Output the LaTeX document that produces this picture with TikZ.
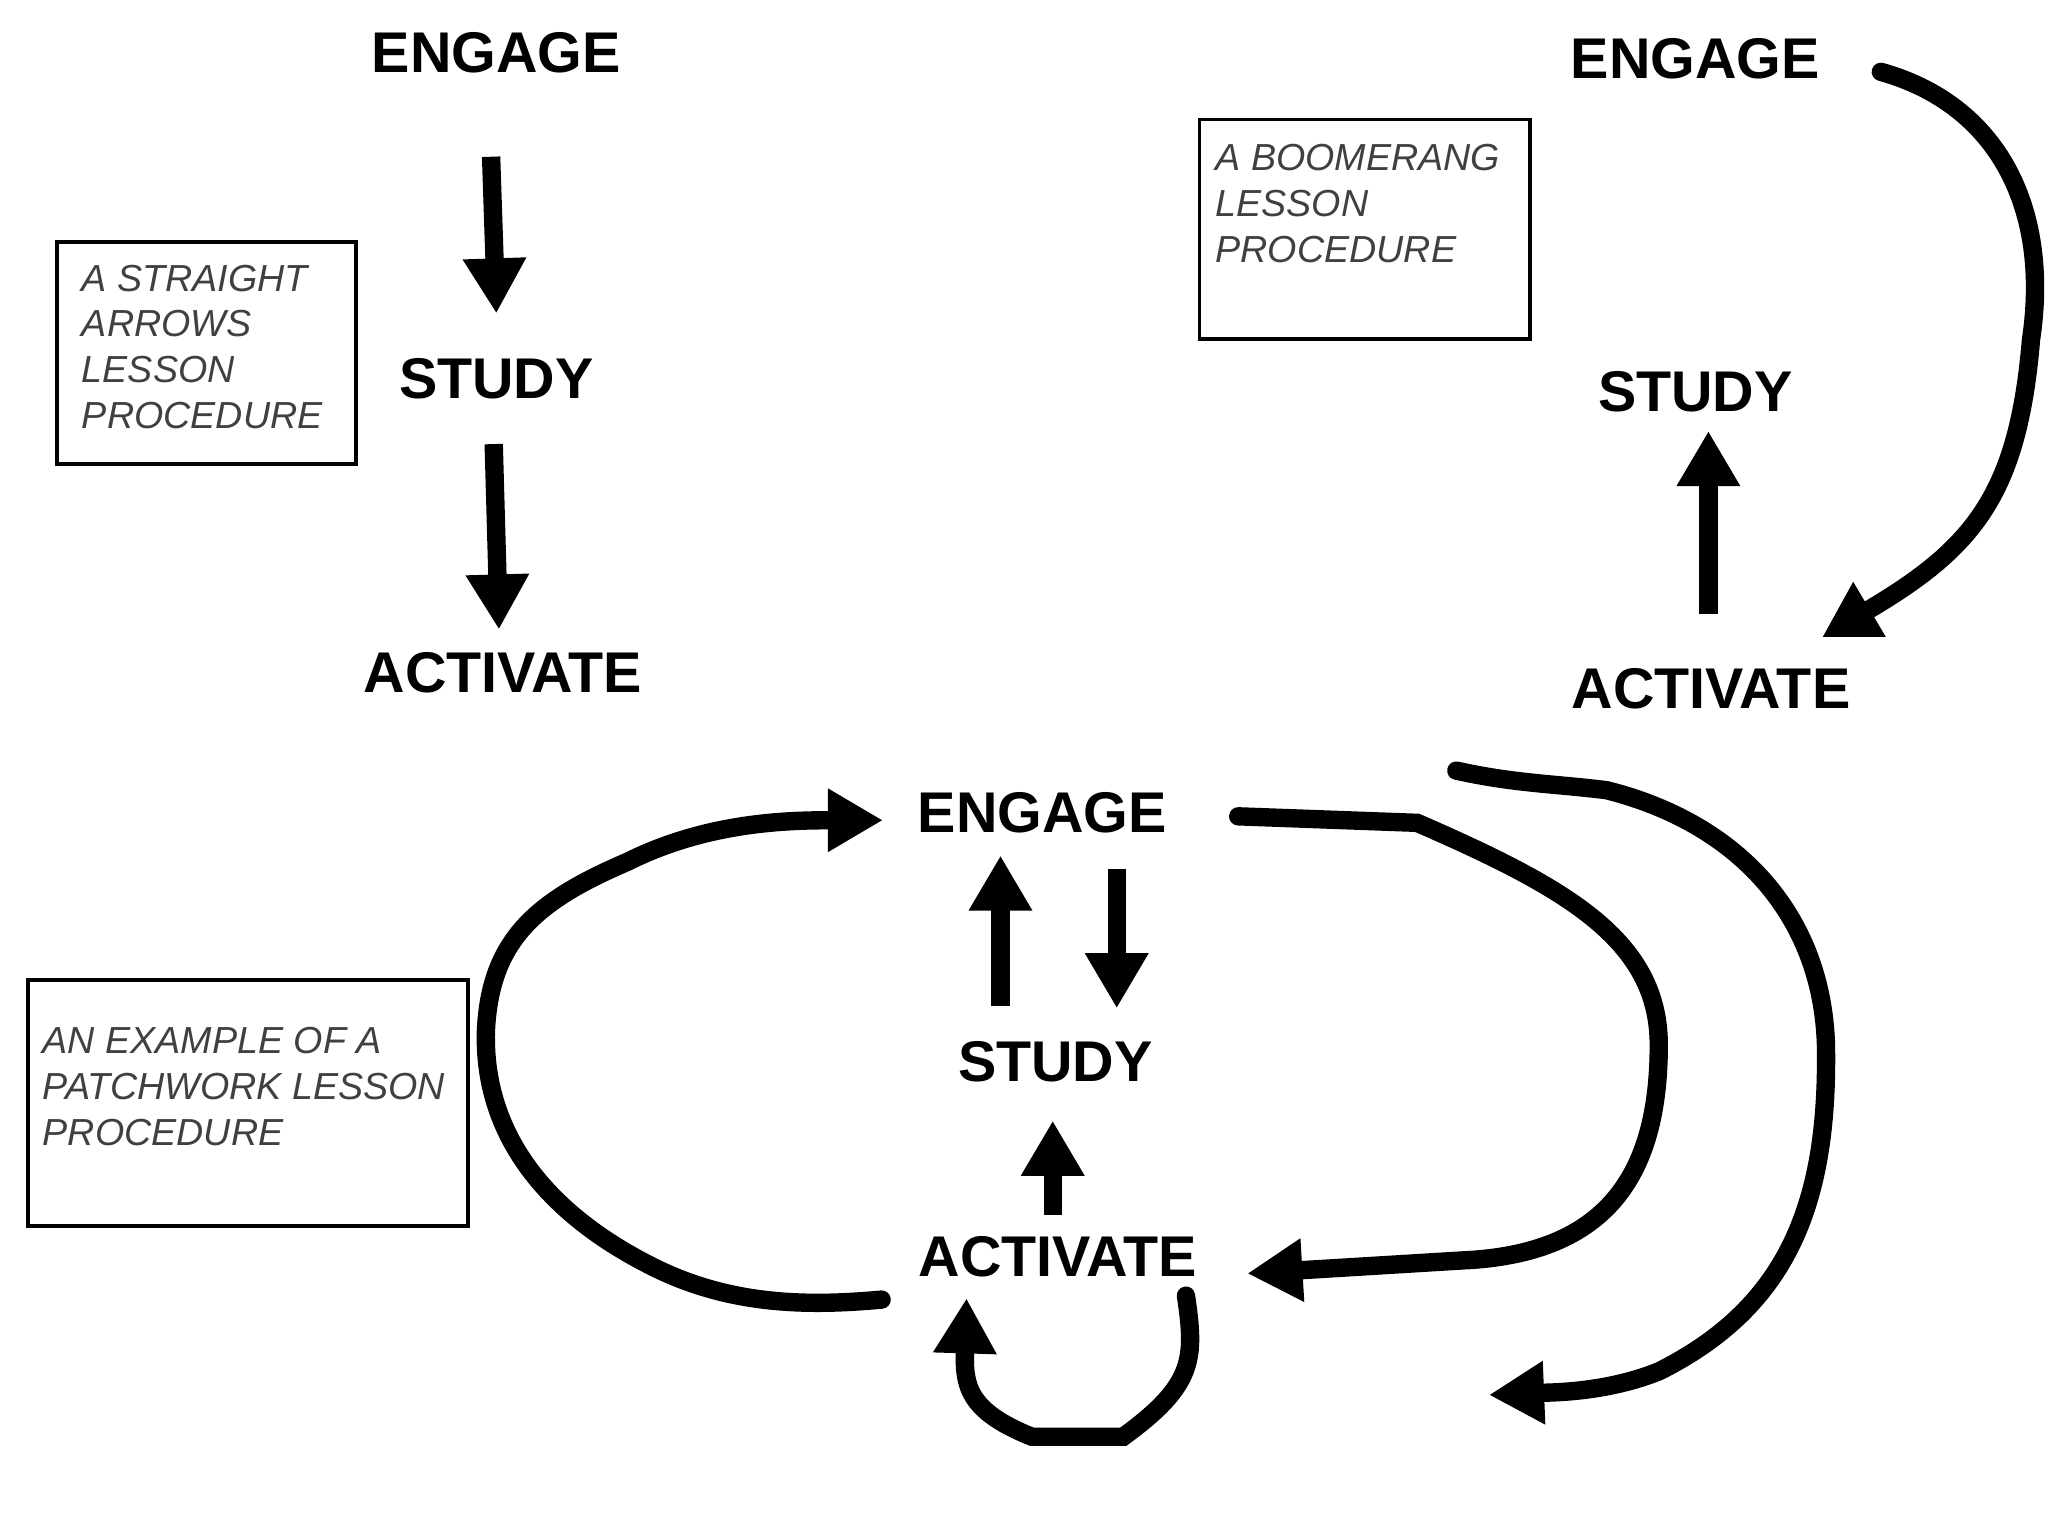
\documentclass[tikz,border=0pt]{standalone}
\usepackage{fontspec}
\setmainfont{Liberation Sans}
\usetikzlibrary{arrows.meta}
\begin{document}
\begin{tikzpicture}[x=0.01cm,y=-0.01cm,
 lbl/.style={font=\bfseries\fontsize{12.5pt}{14pt}\selectfont},
 boxr/.style={draw,line width=0.8pt,anchor=north west,inner sep=0pt},
 boxt/.style={anchor=north west,align=left,font=\itshape\fontsize{8.2pt}{10pt}\selectfont,text=black!75,inner sep=0pt},
 arr/.style={line width=4pt,-{Triangle[length=12pt,width=13pt]}},
 crv/.style={line width=4pt,line cap=round,-{Triangle[length=12pt,width=13pt]}}]
\useasboundingbox (0,0) rectangle (1568,1176);
% straight arrows
\node[lbl] (e1) at (380,40) {ENGAGE};
\node[lbl] (s1) at (380,290) {STUDY};
\node[lbl] (a1) at (385,515) {ACTIVATE};
\draw[arr] (376,120) -- (380,240);
\draw[arr] (378,340) -- (382,482);
\node[boxr,minimum width=229*0.01cm,minimum height=170*0.01cm] (b1) at (42,184) {};
\node[boxt] (t1) at (62,202) {A STRAIGHT\\ARROWS\\LESSON\\PROCEDURE};
% boomerang
\node[lbl] (e2) at (1298,45) {ENGAGE};
\node[lbl] (s2) at (1298,300) {STUDY};
\node[lbl] (a2) at (1310,527) {ACTIVATE};
\draw[arr] (1308,470) -- (1308,330);
\draw[crv] (1440,55) .. controls (1530,80) and (1570,160) .. (1555,260) .. controls (1545,380) and (1510,420) .. (1395,488);
\node[boxr,minimum width=253*0.01cm,minimum height=168*0.01cm] (b2) at (917,90) {};
\node[boxt] (t2) at (930,110) {A BOOMERANG\\LESSON\\PROCEDURE};
% patchwork
\node[lbl] (e3) at (798,622) {ENGAGE};
\node[lbl] (s3) at (808,813) {STUDY};
\node[lbl] (a3) at (810,962) {ACTIVATE};
\draw[arr] (766,770) -- (766,655);
\draw[arr] (855,665) -- (855,772);
\draw[arr] (806,930) -- (806,858);
\node[boxr,minimum width=337*0.01cm,minimum height=188*0.01cm] (b3) at (20,749) {};
\node[boxt] (t3) at (32,786) {AN EXAMPLE OF A\\PATCHWORK LESSON\\PROCEDURE};
\draw[crv] (675,995) .. controls (620,1000) and (560,1000) .. (500,970) .. controls (420,930) and (370,870) .. (372,790) .. controls (375,720) and (410,690) .. (480,660) .. controls (540,630) and (600,628) .. (676,628);
\draw[crv] (948,625) -- (1085,630) .. controls (1200,680) and (1270,720) .. (1270,800) .. controls (1270,900) and (1230,960) .. (1120,965) -- (955,975);
\draw[crv] (1115,590) .. controls (1160,600) and (1190,600) .. (1230,605) .. controls (1330,630) and (1395,700) .. (1398,800) .. controls (1400,920) and (1370,1000) .. (1270,1050) .. controls (1230,1066) and (1190,1066) .. (1140,1068);
\draw[crv] (908,992) .. controls (915,1040) and (915,1060) .. (860,1100) -- (790,1100) .. controls (740,1080) and (738,1060) .. (740,994);
\end{tikzpicture}
\end{document}
